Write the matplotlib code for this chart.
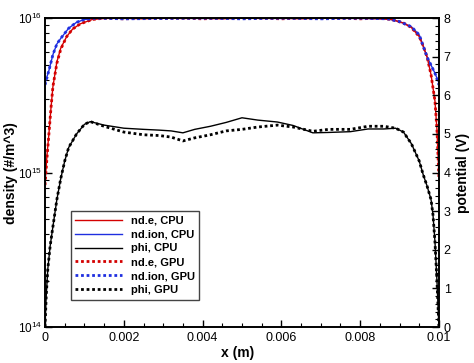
import numpy as np
import matplotlib
matplotlib.use("Agg")
import matplotlib.pyplot as plt
from matplotlib.ticker import MultipleLocator, LogLocator, NullFormatter

plt.rcParams['font.family'] = ['Liberation Sans', 'DejaVu Sans']

# density profiles (#/m^3)
x_e = [0, 0.00005, 0.0001, 0.00015, 0.0002, 0.0003, 0.0004, 0.00055, 0.0007,
       0.0009, 0.0012, 0.0015, 0.002, 0.0025, 0.003, 0.0035, 0.004, 0.0045,
       0.005, 0.0055, 0.006, 0.0065, 0.007, 0.0075, 0.008, 0.0085, 0.0088,
       0.0091, 0.0093, 0.0095, 0.0096, 0.0097, 0.0098, 0.0099, 0.00995, 0.01]
ne_cpu = [8.5e14, 1.3e15, 1.8e15, 2.6e15, 3.6e15, 5.2e15, 6.4e15, 7.6e15, 8.5e15,
          9.2e15, 9.8e15, 9.95e15, 1.0e16, 0.99e16, 1.0e16, 0.995e16, 1.0e16, 0.99e16,
          1.0e16, 0.995e16, 1.0e16, 0.99e16, 1.0e16, 0.995e16, 1.0e16, 0.99e16, 9.8e15,
          9.3e15, 8.7e15, 7.6e15, 6.6e15, 5.6e15, 4.3e15, 2.9e15, 1.9e15, 9.5e14]
ne_gpu = [8.3e14, 1.25e15, 1.8e15, 2.6e15, 3.6e15, 5.1e15, 6.3e15, 7.6e15, 8.5e15,
          9.2e15, 9.8e15, 1.0e16, 0.99e16, 1.0e16, 0.995e16, 1.0e16, 0.99e16, 1.0e16,
          0.995e16, 1.0e16, 0.99e16, 1.0e16, 0.995e16, 1.0e16, 0.99e16, 1.0e16, 9.8e15,
          9.3e15, 8.7e15, 7.6e15, 6.6e15, 5.6e15, 4.3e15, 2.9e15, 1.9e15, 9.3e14]

x_i = [0, 0.0001, 0.0002, 0.0003, 0.0004, 0.0006, 0.0008, 0.001, 0.0013, 0.002,
       0.003, 0.004, 0.005, 0.006, 0.007, 0.008, 0.0087, 0.009, 0.0093, 0.0095,
       0.0097, 0.0099, 0.01]
ni_cpu = [3.8e15, 4.6e15, 5.8e15, 6.8e15, 7.4e15, 8.6e15, 9.4e15, 9.8e15, 1.0e16, 0.995e16,
          1.0e16, 0.995e16, 1.0e16, 0.995e16, 1.0e16, 0.995e16, 9.9e15, 9.5e15, 8.8e15, 7.8e15,
          5.6e15, 4.4e15, 3.8e15]
ni_gpu = [3.7e15, 4.6e15, 5.8e15, 6.8e15, 7.4e15, 8.6e15, 9.4e15, 9.8e15, 1.0e16, 0.99e16,
          0.995e16, 1.0e16, 0.99e16, 1.0e16, 0.99e16, 1.0e16, 9.9e15, 9.5e15, 8.8e15, 7.8e15,
          5.6e15, 4.4e15, 3.7e15]

# potential (V)
x_p = [0, 0.00003, 0.00007, 0.00013, 0.0002, 0.0003, 0.0004, 0.0005, 0.0006, 0.0008,
       0.001, 0.00115, 0.0015, 0.002, 0.0025, 0.0029, 0.0032, 0.0035, 0.0038, 0.0042,
       0.0046, 0.005, 0.0054, 0.0059, 0.0063, 0.0068, 0.0072, 0.00775, 0.0082, 0.0086,
       0.0089, 0.0091, 0.0093, 0.0095, 0.0096, 0.0097, 0.0098, 0.00985, 0.0099, 0.00995, 0.01]
phi_cpu = [0, 0.8, 1.5, 2.1, 2.6, 3.3, 3.85, 4.3, 4.65, 5.0,
           5.25, 5.32, 5.23, 5.15, 5.12, 5.10, 5.08, 5.03, 5.12, 5.2,
           5.3, 5.42, 5.36, 5.31, 5.22, 5.03, 5.04, 5.06, 5.13, 5.13,
           5.15, 5.05, 4.75, 4.3, 3.95, 3.65, 3.3, 2.9, 2.2, 1.2, 0]
phi_gpu = [0, 0.8, 1.5, 2.1, 2.6, 3.3, 3.85, 4.3, 4.65, 5.0,
           5.25, 5.32, 5.2, 5.05, 4.98, 4.96, 4.92, 4.82, 4.9, 4.98,
           5.08, 5.12, 5.18, 5.23, 5.18, 5.07, 5.12, 5.12, 5.2, 5.2,
           5.15, 5.05, 4.75, 4.3, 3.95, 3.65, 3.3, 2.9, 2.2, 1.2, 0]

red = "#d40000"
blue = "#1f2fe0"

fig = plt.figure(figsize=(4.74, 3.63), dpi=100)
ax = fig.add_axes([0.095, 0.099, 0.831, 0.851])
ax2 = ax.twinx()

l1, = ax.plot(x_i, ni_cpu, color=blue, lw=1.0)
l2, = ax.plot(x_e, ne_cpu, color=red, lw=1.0)
l4, = ax.plot(x_e, ne_gpu, color=red, lw=2.0, ls=(0, (1, 1)))
l5, = ax.plot(x_i, ni_gpu, color=blue, lw=2.0, ls=(0, (1, 1)))
l3, = ax2.plot(x_p, phi_cpu, color="black", lw=1.0)
l6, = ax2.plot(x_p, phi_gpu, color="black", lw=2.0, ls=(0, (1, 1)))

ax.set_yscale("log")
ax.set_ylim(1e14, 1e16)
ax.set_xlim(0, 0.01)
ax2.set_ylim(0, 8)

ax.xaxis.set_major_locator(MultipleLocator(0.002))
ax.xaxis.set_minor_locator(MultipleLocator(0.0005))
ax.xaxis.set_major_formatter(plt.FuncFormatter(lambda v, p: "0" if abs(v) < 1e-12 else f"{v:g}"))
ax.yaxis.set_major_locator(LogLocator(base=10, numticks=5))
ax.yaxis.set_minor_locator(LogLocator(base=10, subs=np.arange(2, 10), numticks=20))
ax.yaxis.set_minor_formatter(NullFormatter())
ax2.yaxis.set_major_locator(MultipleLocator(1))
ax2.yaxis.set_minor_locator(MultipleLocator(0.2))

for a in (ax, ax2):
    a.tick_params(which="major", direction="in", length=5, width=1, labelsize=9)
    a.tick_params(which="minor", direction="in", length=3, width=0.8)
    for sp in a.spines.values():
        sp.set_linewidth(1.2)
ax.tick_params(axis="x", which="both", top=False)
ax.tick_params(axis="y", labelsize=8.5, pad=2)

ax.set_xlabel("x (m)", fontsize=10, fontweight="bold")
ax.xaxis.set_label_coords(0.49, -0.06)
ax.set_ylabel("density (#/m^3)", fontsize=10, fontweight="bold")
ax.yaxis.set_label_coords(-0.068, 0.5)
ax2.set_ylabel("potential (V)", fontsize=10, fontweight="bold", labelpad=4)

leg = ax.legend([l2, l1, l3, l4, l5, l6],
                ["nd.e, CPU", "nd.ion, CPU", "phi, CPU", "nd.e, GPU", "nd.ion, GPU", "phi, GPU"],
                loc="upper left", bbox_to_anchor=(0.065, 0.375),
                prop={"weight": "bold", "size": 8}, fancybox=False, framealpha=1,
                edgecolor="#444444", handlelength=4.2, handletextpad=0.8,
                labelspacing=0.35, borderpad=0.4, borderaxespad=0)
leg.get_frame().set_linewidth(1.0)

fig.savefig("out.png", dpi=100)
